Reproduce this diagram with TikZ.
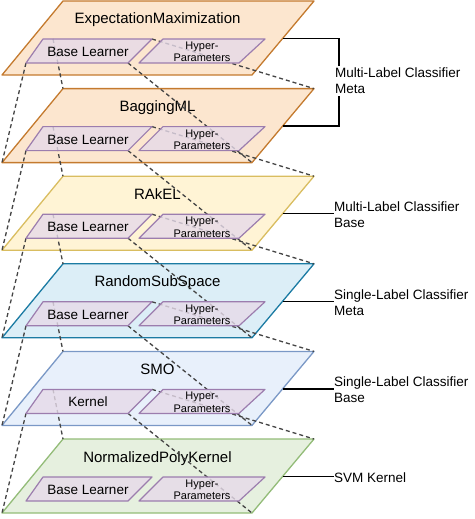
\documentclass[tikz,border=0pt]{standalone}
\usepackage{fontspec}
\setmainfont{Liberation Sans}
\usetikzlibrary{calc}

\definecolor{emfill}{HTML}{FCE6CF}
\definecolor{emline}{HTML}{C47A2E}
\definecolor{yefill}{HTML}{FFF4D5}
\definecolor{yeline}{HTML}{D9BD60}
\definecolor{blfill}{HTML}{DCEEF7}
\definecolor{blline}{HTML}{1B7BA3}
\definecolor{lbfill}{HTML}{E8F0FB}
\definecolor{lbline}{HTML}{7A98C6}
\definecolor{grfill}{HTML}{E6F0DF}
\definecolor{grline}{HTML}{93BC78}
\definecolor{boxfill}{HTML}{E6DAE9}
\definecolor{boxline}{HTML}{9C7DAE}
\definecolor{dashgray}{HTML}{444444}

\tikzset{
  layer/.style={line width=1.3pt, line join=round},
  inbox/.style={draw=boxline, fill=boxfill, fill opacity=0.8, line width=1.2pt, line join=round},
  link/.style={draw=dashgray, dash pattern=on 4pt off 3pt, line width=1.3pt},
  bracket/.style={draw=black, line width=1.3pt},
  ttlfont/.style={inner sep=0pt, font=\fontsize{15}{18}\selectfont},
  boxfont/.style={inner sep=0pt, font=\fontsize{13.5}{16}\selectfont},
  hypfont/.style={inner sep=0pt, align=center, font=\fontsize{11}{12.5}\selectfont},
  sidelab/.style={inner sep=0pt, align=left, anchor=west, font=\fontsize{13.5}{16}\selectfont}
}

\begin{document}
\begin{tikzpicture}[x=1pt,y=-1pt]
  \useasboundingbox (0,0) rectangle (474,519);

  % layers
  \foreach \k/\fc/\dc/\ttl in {%
      0/emfill/emline/ExpectationMaximization,
      1/emfill/emline/BaggingML,
      2/yefill/yeline/RAkEL,
      3/blfill/blline/RandomSubSpace,
      4/lbfill/lbline/SMO,
      5/grfill/grline/NormalizedPolyKernel%
      }{
      \pgfmathsetmacro{\ty}{1+87.6*\k}

      \coordinate (L\k-tl) at (63,\ty);
      \coordinate (L\k-tr) at (314,\ty);
      \coordinate (L\k-br) at (252,\ty+74);
      \coordinate (L\k-bl) at (2,\ty+74);
      \coordinate (L\k-e) at (283,\ty+37.5);

      \coordinate (B\k-tl) at (43,\ty+38);
      \coordinate (B\k-p) at (53,\ty+38);
      \coordinate (B\k-tr) at (152,\ty+38);
      \coordinate (B\k-br) at (128,\ty+62);
      \coordinate (B\k-bl) at (26,\ty+62);

      \coordinate (H\k-tl) at (163,\ty+38);
      \coordinate (H\k-tr) at (265,\ty+38);
      \coordinate (H\k-br) at (239,\ty+62);
      \coordinate (H\k-bl) at (139,\ty+62);

      \draw[layer, draw=\dc, fill=\fc] (L\k-tl) -- (L\k-tr) -- (L\k-br) -- (L\k-bl) -- cycle;
      \node[ttlfont, anchor=base] (T\k) at (157.5,\ty+23) {\ttl};
  }

  % dashed links from each box to the layer below
  \foreach \k in {0,...,4}{
      \pgfmathtruncatemacro{\j}{\k+1}
      \draw[link] (B\k-bl) -- (L\j-bl);
      \draw[link] (B\k-p) -- (L\j-tl);
      \draw[link] (B\k-tr) -- (L\j-tr);
      \draw[link] (B\k-br) -- (L\j-br);
  }

  % inner boxes
  \foreach \k/\blab in {0/Base Learner, 1/Base Learner, 2/Base Learner,
                        3/Base Learner, 4/Kernel, 5/Base Learner}{
      \pgfmathsetmacro{\ty}{1+87.6*\k}
      \draw[inbox] (B\k-tl) -- (B\k-tr) -- (B\k-br) -- (B\k-bl) -- cycle;
      \draw[inbox] (H\k-tl) -- (H\k-tr) -- (H\k-br) -- (H\k-bl) -- cycle;
      \node[boxfont, anchor=base] (b\k) at (88,\ty+55.5) {\blab};
      \node[hypfont] (h\k) at (202,\ty+51) {Hyper-\\Parameters};
  }

  % labels on the right
  \coordinate (brk) at (339,82);
  \draw[bracket] (L0-e) -| (brk) |- (L1-e);
  \node[sidelab, fill=white, inner ysep=2pt] (m0) at (335,81) {Multi-Label Classifier\\Meta};

  \foreach \k/\txt in {%
      2/{Multi-Label Classifier\\Base},
      3/{Single-Label Classifier\\Meta},
      4/{Single-Label Classifier\\Base},
      5/{SVM Kernel}%
      }{
      \pgfmathsetmacro{\ty}{1+87.6*\k}
      \node[sidelab] (m\k) at (334,\ty+38.5) {\txt};
      \draw[bracket] (L\k-e) -- (L\k-e -| m\k.west);
  }

\end{tikzpicture}
\end{document}
